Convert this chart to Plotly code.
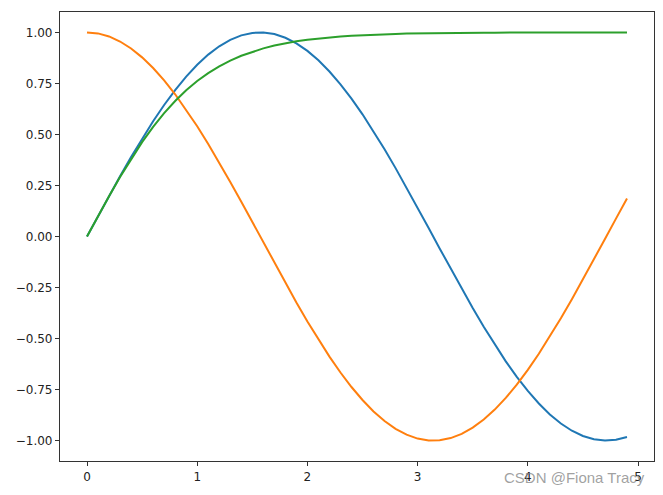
import plotly.graph_objects as go

x_vals = [0.0, 0.1, 0.2, 0.3, 0.4, 0.5, 0.6, 0.7, 0.8, 0.9,
          1.0, 1.1, 1.2, 1.3, 1.4, 1.5, 1.6, 1.7, 1.8, 1.9,
          2.0, 2.1, 2.2, 2.3, 2.4, 2.5, 2.6, 2.7, 2.8, 2.9,
          3.0, 3.1, 3.2, 3.3, 3.4, 3.5, 3.6, 3.7, 3.8, 3.9,
          4.0, 4.1, 4.2, 4.3, 4.4, 4.5, 4.6, 4.7, 4.8, 4.9]

blue_vals = [0.0, 0.0998, 0.1987, 0.2955, 0.3894, 0.4794, 0.5646, 0.6442, 0.7174, 0.7833,
             0.8415, 0.8912, 0.9320, 0.9636, 0.9854, 0.9975, 0.9996, 0.9917, 0.9738, 0.9463,
             0.9093, 0.8632, 0.8085, 0.7457, 0.6755, 0.5985, 0.5155, 0.4274, 0.3350, 0.2392,
             0.1411, 0.0416, -0.0584, -0.1577, -0.2555, -0.3508, -0.4425, -0.5298, -0.6119, -0.6878,
             -0.7568, -0.8183, -0.8716, -0.9162, -0.9516, -0.9775, -0.9937, -0.9999, -0.9962, -0.9825]

orange_vals = [1.0, 0.9950, 0.9801, 0.9553, 0.9211, 0.8776, 0.8253, 0.7648, 0.6967, 0.6216,
               0.5403, 0.4536, 0.3624, 0.2675, 0.1700, 0.0707, -0.0292, -0.1288, -0.2272, -0.3233,
               -0.4161, -0.5048, -0.5885, -0.6663, -0.7374, -0.8011, -0.8569, -0.9041, -0.9422, -0.9710,
               -0.9900, -0.9991, -0.9983, -0.9875, -0.9668, -0.9365, -0.8968, -0.8481, -0.7910, -0.7259,
               -0.6536, -0.5748, -0.4903, -0.4008, -0.3073, -0.2108, -0.1122, -0.0124, 0.0875, 0.1865]

green_vals = [0.0, 0.0997, 0.1974, 0.2913, 0.3799, 0.4621, 0.5370, 0.6044, 0.6640, 0.7163,
              0.7616, 0.8005, 0.8337, 0.8617, 0.8854, 0.9051, 0.9217, 0.9354, 0.9468, 0.9562,
              0.9640, 0.9705, 0.9757, 0.9801, 0.9837, 0.9866, 0.9890, 0.9910, 0.9926, 0.9940,
              0.9951, 0.9959, 0.9967, 0.9973, 0.9978, 0.9982, 0.9985, 0.9988, 0.9990, 0.9992,
              0.9993, 0.9995, 0.9996, 0.9996, 0.9997, 0.9998, 0.9998, 0.9998, 0.9999, 0.9999]

x_ticks = [0, 1, 2, 3, 4, 5]
y_ticks = [-1.0, -0.75, -0.5, -0.25, 0.0, 0.25, 0.5, 0.75, 1.0]

fig = go.Figure()
for ys, col in [(blue_vals, "#1f77b4"), (orange_vals, "#ff7f0e"), (green_vals, "#2ca02c")]:
    fig.add_trace(go.Scatter(x=x_vals, y=ys, mode="lines",
                             line=dict(color=col, width=2), showlegend=False))

axis_common = dict(showline=True, linecolor="#333333", linewidth=1.2, mirror=True,
                   ticks="outside", ticklen=4, tickwidth=1, tickcolor="#333333",
                   showgrid=False, zeroline=False,
                   tickfont=dict(family="DejaVu Sans", size=12, color="#222222"))

fig.update_layout(
    width=663, height=495,
    margin=dict(l=52, r=17, t=4, b=42),
    paper_bgcolor="white", plot_bgcolor="white",
    xaxis=dict(range=[-0.245, 5.145], tickvals=x_ticks, ticktext=[str(t) for t in x_ticks], **axis_common),
    yaxis=dict(range=[-1.0999, 1.0999], tickvals=y_ticks, tickformat=".2f", **axis_common),
    annotations=[dict(text="CSDN @Fiona Tracy", xref="paper", yref="paper",
                      x=0.867, y=-0.036, xanchor="center", yanchor="middle",
                      showarrow=False,
                      font=dict(family="Liberation Sans", size=15, color="rgba(130,130,130,0.75)"))],
)

fig.write_html("out.html")
